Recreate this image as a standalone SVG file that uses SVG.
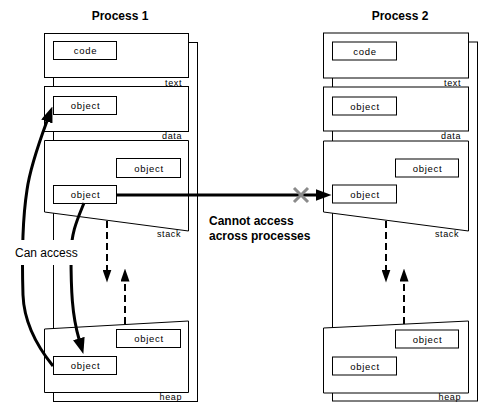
<svg xmlns="http://www.w3.org/2000/svg" width="490" height="415" viewBox="0 0 490 415">
<style>
.bx{fill:#fff;stroke:#000;stroke-width:1}
.ob{fill:#fff;stroke:#000;stroke-width:1}
.t{font-family:"Liberation Sans",Arial,sans-serif;font-size:9.5px;letter-spacing:0.7px;text-anchor:middle;fill:#000}
.lb{font-family:"Liberation Sans",Arial,sans-serif;font-size:9px;letter-spacing:0.6px;text-anchor:end;fill:#000}
.ti{font-family:"Liberation Sans",Arial,sans-serif;font-size:12px;font-weight:bold;text-anchor:middle;fill:#000}
.cn{fill:none;stroke:#000;stroke-width:3}
.ds{fill:none;stroke:#000;stroke-width:2;stroke-dasharray:7,4}
</style>
<defs>
<marker id="ah" viewBox="0 0 16 12" refX="0.5" refY="6" markerWidth="16" markerHeight="12" markerUnits="userSpaceOnUse" orient="auto">
<path d="M0,0 L16,6 L0,12 z" fill="#000"/>
</marker>
<marker id="dh" viewBox="0 0 13 9" refX="0.5" refY="4.5" markerWidth="13" markerHeight="9" markerUnits="userSpaceOnUse" orient="auto">
<path d="M0,0 L13,4.5 L0,9 z" fill="#000"/>
</marker>
</defs>

<g id="process1">
<text class="ti" x="120" y="20">Process 1</text>
<rect class="bx" x="53.5" y="42.5" width="144" height="359"/>
<g id="p1-text"><rect class="bx" x="44.5" y="33.5" width="144" height="44"/><text class="lb" x="182" y="85.5">text</text></g>
<g id="p1-data"><rect class="bx" x="44.5" y="86.5" width="144" height="45"/><text class="lb" x="182" y="138.5">data</text></g>
<g id="p1-stack"><polygon class="bx" points="44.5,140.5 188.5,140.5 188.5,231 44.5,212"/><text class="lb" x="181" y="237">stack</text></g>
<g id="p1-heap"><polygon class="bx" points="44.5,329 188.5,321 188.5,392.5 44.5,392.5"/><text class="lb" x="182" y="400">heap</text></g>
<g id="p1-code"><rect class="ob" x="53.5" y="41.5" width="63" height="18"/><text class="t" x="85.5" y="54">code</text></g>
<g id="p1-data-obj"><rect class="ob" x="53.5" y="96.5" width="63" height="18"/><text class="t" x="85.5" y="109">object</text></g>
<g id="p1-stack-obj1"><rect class="ob" x="116.5" y="158.5" width="64" height="19"/><text class="t" x="149" y="171.5">object</text></g>
<g id="p1-stack-obj2"><rect class="ob" x="53.5" y="185.5" width="63" height="18"/><text class="t" x="85.5" y="198">object</text></g>
<g id="p1-heap-obj1"><rect class="ob" x="116.5" y="329.5" width="64" height="18"/><text class="t" x="149" y="342">object</text></g>
<g id="p1-heap-obj2"><rect class="ob" x="53.5" y="356.5" width="63" height="18"/><text class="t" x="85.5" y="369">object</text></g>
</g>

<g id="process2">
<text class="ti" x="400" y="20">Process 2</text>
<rect class="bx" x="332.5" y="42" width="145" height="359"/>
<g id="p2-text"><rect class="bx" x="323.5" y="33" width="145" height="45"/><text class="lb" x="461" y="85.5">text</text></g>
<g id="p2-data"><rect class="bx" x="323.5" y="87" width="145" height="44"/><text class="lb" x="461" y="138.5">data</text></g>
<g id="p2-stack"><polygon class="bx" points="323.5,141 468.5,141 468.5,231 323.5,212"/><text class="lb" x="459" y="237">stack</text></g>
<g id="p2-heap"><polygon class="bx" points="323.5,328 468.5,321 468.5,393 323.5,393"/><text class="lb" x="461" y="400">heap</text></g>
<g id="p2-code"><rect class="ob" x="332.5" y="42" width="64" height="18"/><text class="t" x="365" y="54.5">code</text></g>
<g id="p2-data-obj"><rect class="ob" x="332.5" y="97" width="64" height="18"/><text class="t" x="365" y="109.5">object</text></g>
<g id="p2-stack-obj1"><rect class="ob" x="395.5" y="159" width="63" height="18"/><text class="t" x="427.5" y="171.5">object</text></g>
<g id="p2-stack-obj2"><rect class="ob" x="332.5" y="185" width="64" height="18"/><text class="t" x="365" y="197.5">object</text></g>
<g id="p2-heap-obj1"><rect class="ob" x="395.5" y="330" width="63" height="18"/><text class="t" x="427.5" y="342.5">object</text></g>
<g id="p2-heap-obj2"><rect class="ob" x="332.5" y="357" width="64" height="18"/><text class="t" x="365" y="369.5">object</text></g>
</g>

<g id="connectors">
<path class="cn" d="M53,366 C36,345 24,322 23,295 C22,262 22,222 27,190 C30,168 40,140 47,121" marker-end="url(#ah)"/>
<path class="cn" d="M84,203 C78,218 71,232 71,255 C71,290 72,315 79,339" marker-end="url(#ah)"/>
<path class="ds" d="M107,221 L107,270" marker-end="url(#dh)"/>
<path class="ds" d="M125,324 L125,281" marker-end="url(#dh)"/>
<path class="ds" d="M386,221 L386,270" marker-end="url(#dh)"/>
<path class="ds" d="M404,324 L404,281" marker-end="url(#dh)"/>
<path class="cn" d="M116,195 L316,195" marker-end="url(#ah)"/>
<path d="M294,188 L308,202 M294,202 L308,188" stroke="#8a8a8a" stroke-width="3" fill="none"/>
</g>

<g id="label-can-access">
<rect x="12" y="240" width="70" height="25" fill="#fff"/>
<text x="15" y="257" font-family="'Liberation Sans',Arial,sans-serif" font-size="12px">Can access</text>
</g>
<g id="label-cannot">
<text x="209" y="225" font-family="'Liberation Sans',Arial,sans-serif" font-size="12px" font-weight="bold">Cannot access</text>
<text x="209" y="240" font-family="'Liberation Sans',Arial,sans-serif" font-size="12px" font-weight="bold">across processes</text>
</g>
</svg>
